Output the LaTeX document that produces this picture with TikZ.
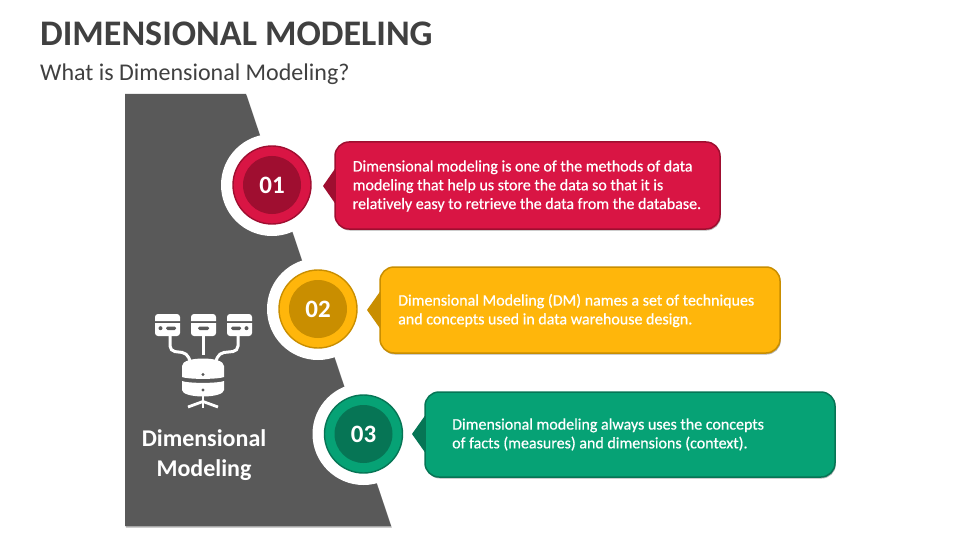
\documentclass[tikz,border=0pt]{standalone}
\usepackage{fontspec}
\setmainfont[Ligatures={NoCommon}]{Carlito}
\newfontfamily\semibody[FakeBold=0.6,Ligatures={NoCommon}]{Carlito}
\usetikzlibrary{shadows,calc}
\definecolor{panel}{HTML}{595959}
\definecolor{ink}{HTML}{404040}
\definecolor{redA}{HTML}{D91544}
\definecolor{redB}{HTML}{9F0E30}
\definecolor{ambA}{HTML}{FFB60B}
\definecolor{ambB}{HTML}{C98E00}
\definecolor{grnA}{HTML}{06A275}
\definecolor{grnB}{HTML}{067555}
\tikzset{
  softshadow/.style={drop shadow={shadow xshift=0.8pt,shadow yshift=-1.5pt,opacity=.3,fill=black}},
  whitedisc/.style={circle,fill=white,minimum size=102pt,inner sep=0pt},
  ring/.style={circle,minimum size=78pt,inner sep=0pt,line width=1.4pt},
  core/.style={circle,minimum size=58pt,inner sep=0pt,text=white,font=\fontsize{25}{25}\selectfont\bfseries},
  bubble/.style={rounded corners=14pt,line width=1.5pt,softshadow},
  bodytext/.style={anchor=west,align=left,text=white,inner sep=0pt,font=\semibody\fontsize{16}{18.8}\selectfont},
  icon/.style={fill=white,draw=none},
  iconline/.style={draw=white,line width=3pt,rounded corners=5pt}
}
\begin{document}
\begin{tikzpicture}[x=1pt,y=-1pt]
\useasboundingbox[fill=white] (0,0) rectangle (960,540);
\node[anchor=west,inner sep=0pt,text=ink,font=\fontsize{36}{38}\selectfont\bfseries] (title) at (40,34) {DIMENSIONAL MODELING};
\node[anchor=west,inner sep=0pt,text=ink,font=\fontsize{24}{26}\selectfont] (subtitle) at (40,74) {What is Dimensional Modeling?};
% panel
\fill[panel,softshadow] (125,94) -- (246,94) -- (391,526) -- (125,526) -- cycle;
% white discs
\node[whitedisc] (d1) at (272,185) {};
\node[whitedisc] (d2) at (318,309) {};
\node[whitedisc] (d3) at (363.5,434) {};
% circles
\node[ring,fill=redA,draw=redB] (r1) at (d1) {};
\node[core,fill=redB] (c1) at (d1) {01};
\node[ring,fill=ambA,draw=ambB] (r2) at (d2) {};
\node[core,fill=ambB] (c2) at (d2) {02};
\node[ring,fill=grnA,draw=grnB] (r3) at (d3) {};
\node[core,fill=grnB] (c3) at (d3) {03};
% bubble 1
\fill[redB] (339,163) -- (323,186) -- (339,209) -- cycle;
\draw[bubble,fill=redA,draw=redB] (335,142) rectangle (720,229);
\node[bodytext] (t1) at (352.5,186) {Dimensional modeling is one of the methods of data\\modeling that help us store the data so that it is\\relatively easy to retrieve the data from the database.};
% bubble 2
\fill[ambB] (384,286) -- (367,310) -- (384,334) -- cycle;
\draw[bubble,fill=ambA,draw=ambB] (380,267) rectangle (780,353);
\node[bodytext] (t2) at (398,310.5) {Dimensional Modeling (DM) names a set of techniques\\and concepts used in data warehouse design.};
% bubble 3
\fill[grnB] (429,410) -- (412,434) -- (429,458) -- cycle;
\draw[bubble,fill=grnA,draw=grnB] (425,392) rectangle (835,477);
\node[bodytext] (t3) at (452,434.5) {Dimensional modeling always uses the concepts\\of facts (measures) and dimensions (context).};
% icon: connectors
\draw[iconline] (170,336) -- (170,351) -- (187,353) -- (190,361);
\draw[iconline] (203,336) -- (203,355);
\draw[iconline] (238,336) -- (238,351) -- (219,353) -- (216,361);
% icon: servers
\foreach \x in {155,191,227}{
  \fill[icon] (\x,321) -- (\x,317) arc[start angle=180,end angle=270,radius=3] -- ++(19,0) arc[start angle=270,end angle=360,radius=3] -- ++(0,4) -- cycle;
  \fill[icon] (\x,323) -- ++(25,0) -- ++(0,10) arc[start angle=0,end angle=90,radius=3] -- ++(-19,0) arc[start angle=90,end angle=180,radius=3] -- cycle;
}
\fill[panel,rounded corners=1.5pt] (166,326.5) rectangle (176,330);
\fill[panel] (160.5,328.2) circle[radius=2];
\fill[panel,rounded corners=1.5pt] (198,326.5) rectangle (209,330);
\fill[panel,rounded corners=1.5pt] (231,326.5) rectangle (241,330);
\fill[panel] (246.5,328.2) circle[radius=2];
% icon: database
\fill[icon] (182,377) -- (182,366) .. controls (182,361) and (192,358.5) .. (203,358.5) .. controls (214,358.5) and (224,361) .. (224,366) -- (224,377) .. controls (218,379.5) and (188,379.5) .. (182,377) -- cycle;
\fill[icon] (182,381) .. controls (188,383.5) and (218,383.5) .. (224,381) -- (224,390) .. controls (224,394) and (214,396.5) .. (203,396.5) .. controls (192,396.5) and (182,394) .. (182,390) -- cycle;
\fill[panel] (203,374.5) circle[radius=1.6];
\fill[panel] (203,390) circle[radius=1.6];
\draw[white,line width=2.8pt] (203,395) -- (203,408);
\draw[white,line width=2.8pt] (188,407) -- (203,401.5) -- (218,407);
\node[align=center,inner sep=0pt,text=white,font=\fontsize{24}{29.5}\selectfont\bfseries] (lab) at (204,455) {Dimensional\\Modeling};
\end{tikzpicture}
\end{document}
